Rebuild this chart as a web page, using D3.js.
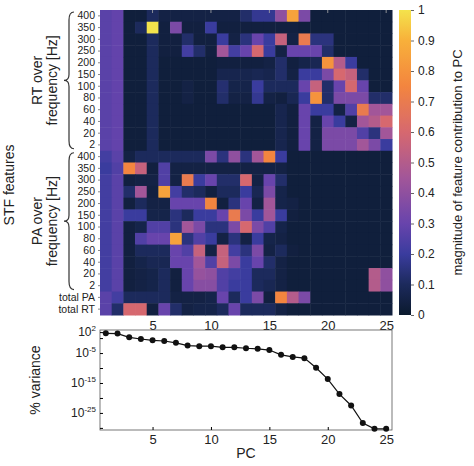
<!DOCTYPE html>
<html lang="en">
<head>
<meta charset="UTF-8">
<script src="https://d3js.org/d3.v7.min.js"></script>
<style>
  body { margin: 0; background: #fff; }
  svg text { font-family: "Liberation Sans", Arial, sans-serif; fill: #222; }
</style>
</head>
<body>
<svg width="474" height="466"></svg>
<script>
// rows top to bottom
const rowLabels = ["400","350","300","250","200","150","100","80","60","40","20","2",
                   "400","350","300","250","200","150","100","80","60","40","20","2","total PA","total RT"];
const pcs = d3.range(1, 26);

// magnitude of feature contribution, one array per row (PC1..PC25)
const rt400 = [.27,.29,.03,.03,.1,.05,.05,.05,.05,.05,.05,.05,.12,.18,.18,.4,.85,.35,.03,.03,.03,.03,.03,.03,.03];
const rt350 = [.27,.29,.03,.1,1,.04,.35,.04,.04,.2,.04,.04,.04,.04,.04,.04,.04,.03,.03,.03,.03,.03,.03,.03,.03];
const rt300 = [.27,.29,.03,.03,.1,.04,.04,.12,.04,.04,.2,.05,.15,.3,.2,.55,.05,.7,.15,.15,.03,.03,.03,.03,.03];
const rt250 = [.27,.29,.03,.03,.1,.04,.04,.22,.12,.04,.45,.22,.3,.6,.2,.05,.3,.3,.3,.12,.03,.03,.03,.03,.03];
const rt200 = [.27,.29,.03,.03,.1,.03,.03,.03,.03,.03,.04,.04,.04,.04,.05,.12,.04,.06,.08,.8,.5,.2,.03,.03,.03];
const rt150 = [.27,.29,.03,.03,.1,.03,.03,.03,.03,.03,.07,.07,.07,.08,.07,.12,.05,.2,.2,.35,.6,.55,.12,.03,.03];
const rt100 = [.27,.29,.03,.03,.1,.03,.03,.05,.03,.03,.13,.06,.06,.2,.1,.1,.1,.3,.55,.12,.3,.6,.3,.03,.03];
const rt80  = [.27,.29,.03,.03,.1,.03,.03,.05,.03,.03,.12,.05,.05,.18,.05,.04,.08,.2,.8,.12,.35,.35,.35,.12,.12];
const rt60  = [.27,.29,.03,.03,.1,.03,.03,.03,.03,.03,.03,.03,.03,.03,.03,.07,.04,.3,.2,.2,.05,.25,.7,.45,.45];
const rt40  = [.27,.29,.03,.03,.1,.03,.03,.03,.03,.03,.03,.03,.03,.03,.03,.07,.04,.3,.05,.3,.2,.05,.45,.5,.6];
const rt20  = [.27,.29,.03,.03,.1,.03,.03,.03,.03,.03,.03,.03,.03,.03,.03,.07,.04,.3,.05,.35,.35,.35,.25,.15,.45];
const rt2   = [.27,.29,.03,.03,.1,.03,.03,.03,.03,.03,.03,.03,.03,.03,.03,.07,.04,.3,.05,.35,.35,.35,.45,.35,.2];
const pa400 = [.22,.27,.05,.1,.1,.1,.1,.1,.1,.35,.15,.4,.15,.45,.75,.2,.03,.03,.03,.03,.03,.03,.03,.03,.03];
const pa350 = [.2,.25,.75,.55,.04,.25,.05,.05,.05,.05,.05,.05,.05,.05,.05,.05,.03,.03,.03,.03,.03,.03,.03,.03,.03];
const pa300 = [.22,.27,.04,.05,.05,.25,.05,.7,.2,.3,.12,.12,.6,.05,.3,.12,.03,.03,.03,.03,.03,.03,.03,.03,.03];
const pa250 = [.22,.27,.12,.45,.04,.85,.22,.12,.1,.04,.1,.1,.2,.08,.35,.06,.03,.03,.03,.03,.03,.03,.03,.03,.03];
const pa200 = [.22,.27,.04,.1,.05,.05,.3,.3,.3,.75,.04,.15,.3,.05,.45,.06,.05,.03,.03,.03,.03,.03,.03,.03,.03];
const pa150 = [.22,.27,.2,.2,.06,.06,.15,.1,.2,.2,.3,.7,.35,.2,.45,.2,.04,.03,.03,.03,.03,.03,.03,.03,.03];
const pa100 = [.22,.27,.04,.06,.25,.25,.15,.45,.35,.15,.15,.35,.6,.35,.25,.06,.03,.03,.03,.03,.03,.03,.03,.03,.03];
const pa80  = [.22,.27,.04,.25,.3,.3,.85,.15,.25,.2,.05,.15,.05,.2,.06,.05,.03,.03,.03,.03,.03,.03,.03,.03,.03];
const pa60  = [.22,.27,.04,.1,.1,.1,.3,.25,.55,.05,.55,.22,.15,.35,.05,.1,.04,.03,.03,.03,.03,.03,.03,.03,.03];
const pa40  = [.22,.27,.04,.06,.08,.08,.3,.3,.45,.25,.55,.35,.2,.3,.12,.05,.03,.03,.03,.03,.03,.03,.03,.03,.03];
const pa20  = [.22,.27,.04,.05,.06,.1,.04,.3,.42,.4,.25,.22,.2,.1,.1,.05,.03,.03,.03,.03,.03,.03,.03,.5,.4];
const pa2   = [.22,.27,.04,.05,.06,.1,.04,.3,.38,.38,.25,.2,.2,.1,.08,.05,.03,.03,.03,.03,.03,.03,.03,.5,.4];
const totPA = [.27,.22,.1,.1,.1,.1,.05,.05,.05,.06,.3,.1,.2,.35,.04,.75,.5,.35,.03,.03,.03,.03,.03,.03,.03];
const totRT = [.27,.12,.6,.6,.04,.3,.12,.05,.06,.06,.1,.3,.1,.1,.1,.05,.03,.03,.03,.03,.03,.03,.03,.03,.03];
const rows = [rt400,rt350,rt300,rt250,rt200,rt150,rt100,rt80,rt60,rt40,rt20,rt2,
              pa400,pa350,pa300,pa250,pa200,pa150,pa100,pa80,pa60,pa40,pa20,pa2,totPA,totRT];

// log10 of % variance per PC
const logVar = [1.6,1.5,0.26,-0.3,-0.75,-0.97,-1.6,-2.5,-2.7,-2.7,-3.1,-3.1,-3.4,-3.6,-4.0,
                -5.6,-6.3,-6.7,-9.9,-13.7,-18.7,-22.5,-28.4,-30.3,-30.3];

const svg = d3.select("svg");
const L = 100, R = 392, T = 10, B = 315;

const color = d3.scaleLinear()
  .domain([0, .1, .2, .3, .45, .6, .75, .9, 1])
  .range(["#0b1a2e","#1c2a5c","#3a3c9e","#6844ac","#a25699","#d6686f","#f3853f","#f8b03a","#f4e34c"])
  .clamp(true);

const x = d3.scaleBand().domain(pcs).range([L, R]);
const y = d3.scaleBand().domain(d3.range(rows.length)).range([T, B]);

const cells = [];
rows.forEach((r, i) => r.forEach((v, j) => cells.push({i, pc: pcs[j], v})));
svg.append("g").selectAll("rect").data(cells).join("rect")
  .attr("x", d => x(d.pc)).attr("y", d => y(d.i))
  .attr("width", x.bandwidth() + 0.5).attr("height", y.bandwidth() + 0.5)
  .attr("fill", d => color(d.v));

// heatmap axes
const xl = d3.scaleLinear().domain([0.5, 25.5]).range([L, R]);
const ticks5 = [5, 10, 15, 20, 25];
svg.append("g").attr("transform", `translate(0,${B})`)
  .call(d3.axisBottom(xl).tickValues(ticks5).tickSize(0).tickPadding(6))
  .call(g => g.select(".domain").remove())
  .selectAll("text").attr("font-size", 13);
svg.append("g").selectAll("line").data(ticks5).join("line")
  .attr("x1", d => xl(d)).attr("x2", d => xl(d)).attr("y1", T).attr("y2", T + 3)
  .attr("stroke", "#aaa").attr("stroke-width", 0.8);
svg.append("g").attr("transform", `translate(${L},0)`)
  .call(d3.axisLeft(y).tickFormat(i => rowLabels[i]).tickSize(2).tickPadding(3))
  .call(g => g.select(".domain").remove())
  .call(g => g.selectAll("line").attr("stroke", "#888"))
  .selectAll("text").attr("font-size", 10.5);

// braces
function brace(x0, y0, y1) {
  const m = (y0 + y1) / 2, w = 5;
  return `M${x0},${y0} Q${x0 - w},${y0} ${x0 - w},${y0 + 8} L${x0 - w},${m - 6} Q${x0 - w},${m} ${x0 - 2 * w},${m}`
    + ` Q${x0 - w},${m} ${x0 - w},${m + 6} L${x0 - w},${y1 - 8} Q${x0 - w},${y1} ${x0},${y1}`;
}
[[y(0) + 2, y(11) + y.bandwidth() - 2], [y(12) + 2, y(23) + y.bandwidth() - 2]].forEach(([a, b]) => {
  svg.append("path").attr("d", brace(74, a, b)).attr("fill", "none").attr("stroke", "#333").attr("stroke-width", 1.2);
});
function vtext(cx, cy, lines, size) {
  const t = svg.append("text").attr("transform", `translate(${cx},${cy}) rotate(-90)`)
    .attr("text-anchor", "middle").attr("font-size", size);
  lines.forEach((s, k) => t.append("tspan").attr("x", 0).attr("dy", k ? "1.1em" : 0).text(s));
}
vtext(42, (y(0) + y(11) + y.bandwidth()) / 2, ["RT over", "frequency [Hz]"], 14);
vtext(42, (y(12) + y(23) + y.bandwidth()) / 2, ["PA over", "frequency [Hz]"], 14);
vtext(14, 185, ["STF features"], 14);

// colorbar
const cbX = 399, cbW = 12;
const cb = d3.scaleLinear().domain([0, 1]).range([B, T]);
const defs = svg.append("defs");
const grad = defs.append("linearGradient").attr("id", "cbg").attr("x1", 0).attr("x2", 0).attr("y1", 1).attr("y2", 0);
d3.range(0, 1.001, 0.05).forEach(t => grad.append("stop").attr("offset", t).attr("stop-color", color(t)));
svg.append("rect").attr("x", cbX).attr("y", T).attr("width", cbW).attr("height", B - T).attr("fill", "url(#cbg)");
svg.append("g").attr("transform", `translate(${cbX + cbW},0)`)
  .call(d3.axisRight(cb).ticks(10).tickFormat(d3.format("~g")).tickSize(3).tickPadding(4))
  .call(g => g.select(".domain").remove())
  .call(g => g.selectAll("line").attr("stroke", "#666"))
  .selectAll("text").attr("font-size", 12);
vtext(462, (T + B) / 2, ["magnitude of feature contribution to PC"], 13);

// variance plot
const PT = 330, PB = 430;
const xv = d3.scaleLinear().domain([0.5, 25.5]).range([L, R]);
const yv = d3.scaleLinear().domain([-30.7, 2.7]).range([PB, PT]);
const pg = svg.append("g");
pg.append("rect").attr("x", L).attr("y", PT).attr("width", R - L).attr("height", PB - PT)
  .attr("fill", "none").attr("stroke", "#555").attr("stroke-width", 0.8);
pg.append("g").attr("transform", `translate(0,${PB})`)
  .call(d3.axisBottom(xv).tickValues(ticks5).tickSizeInner(-3).tickSizeOuter(0).tickPadding(5))
  .call(g => g.select(".domain").remove())
  .selectAll("text").attr("font-size", 13);
const yt = [2, -5, -15, -25];
pg.append("g").attr("transform", `translate(${L},0)`)
  .call(d3.axisLeft(yv).tickValues(d3.range(-30, 3, 5).concat([2])).tickSizeInner(-3).tickSizeOuter(0).tickFormat(() => ""))
  .call(g => g.select(".domain").remove());
const lab = pg.append("g").selectAll("text").data(yt).join("text")
  .attr("x", L - 4).attr("y", d => yv(d) + 4).attr("text-anchor", "end").attr("font-size", 12);
lab.append("tspan").text("10");
lab.append("tspan").attr("dy", -5).attr("font-size", 8).text(d => d);
pg.append("path").datum(logVar)
  .attr("d", d3.line().x((d, i) => xv(pcs[i])).y(d => yv(d)))
  .attr("fill", "none").attr("stroke", "#111").attr("stroke-width", 1.2);
pg.append("g").selectAll("circle").data(logVar).join("circle")
  .attr("cx", (d, i) => xv(pcs[i])).attr("cy", d => yv(d)).attr("r", 3).attr("fill", "#111");
svg.append("text").attr("x", (L + R) / 2).attr("y", 458).attr("text-anchor", "middle").attr("font-size", 14).text("PC");
vtext(40, (PT + PB) / 2, ["% variance"], 14);
</script>
</body>
</html>
